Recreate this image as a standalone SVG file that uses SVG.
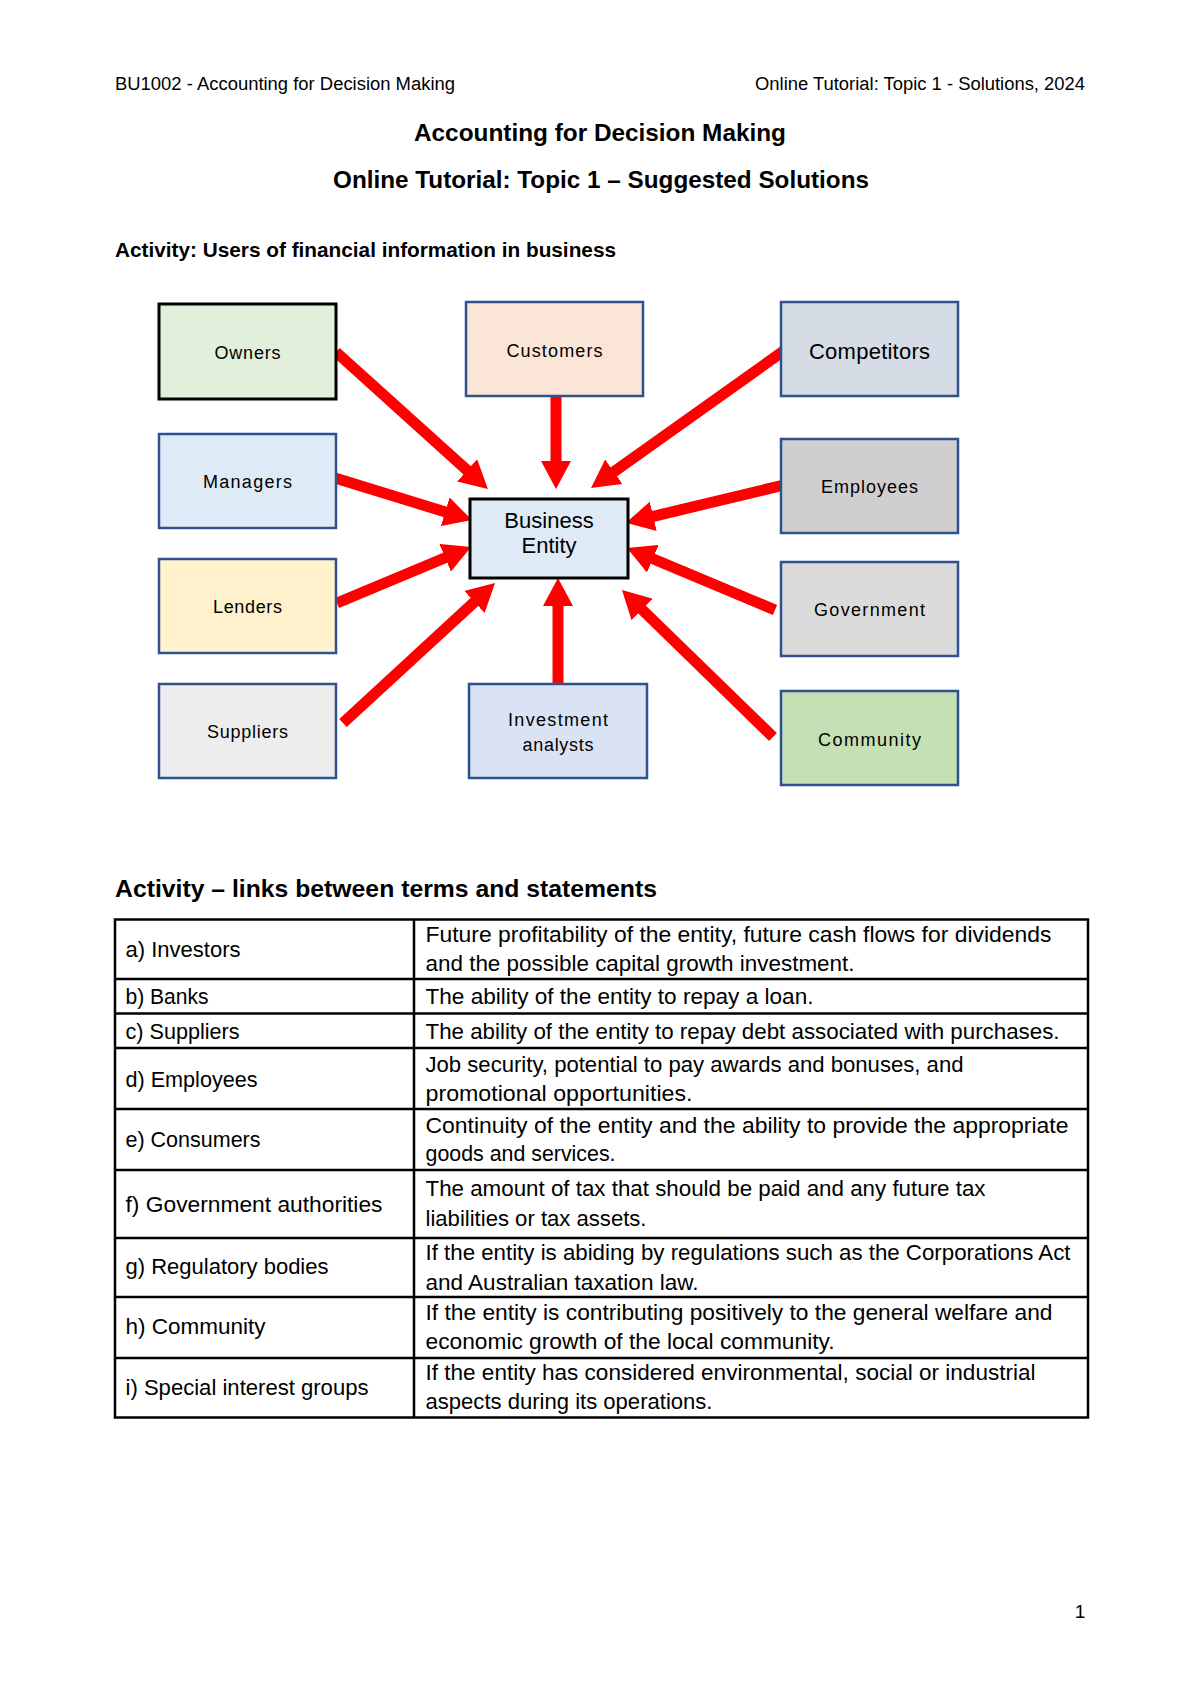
<svg xmlns="http://www.w3.org/2000/svg" width="1200" height="1698" viewBox="0 0 1200 1698">
<defs>
<style>
text{font-family:"Liberation Sans",Arial,sans-serif;fill:#000}
.hdr{font-size:18px}
.ttl{font-size:24px;font-weight:bold}
.h2{font-size:21px;font-weight:bold}
.h3{font-size:24px;font-weight:bold}
.lbl{font-size:18px;text-anchor:middle}
.big{font-size:22px;text-anchor:middle}
.tb{font-size:22px}
.box{stroke:#2F528F;stroke-width:2.5}
.boxk{stroke:#000;stroke-width:3}
.arr{stroke:#FF0000;stroke-width:11;fill:none;marker-end:url(#ah)}
.grid{stroke:#000;stroke-width:2.5;fill:none}
</style>
<marker id="ah" markerUnits="userSpaceOnUse" viewBox="0 0 30 30" markerWidth="30" markerHeight="30" refX="2" refY="15" orient="auto">
<path d="M0,0 L28,15 L0,30 z" fill="#FF0000"/>
</marker>
</defs>
<rect width="1200" height="1698" fill="#FFFFFF"/>

<g id="header">
<text class="hdr" x="115" y="90" textLength="340" lengthAdjust="spacingAndGlyphs">BU1002 - Accounting for Decision Making</text>
<text class="hdr" x="755" y="90" textLength="330" lengthAdjust="spacingAndGlyphs">Online Tutorial: Topic 1 - Solutions, 2024</text>
<text class="ttl" x="414" y="141" textLength="372" lengthAdjust="spacingAndGlyphs">Accounting for Decision Making</text>
<text class="ttl" x="333" y="188" textLength="536" lengthAdjust="spacingAndGlyphs">Online Tutorial: Topic 1 – Suggested Solutions</text>
<text class="h2" x="115" y="257" textLength="501" lengthAdjust="spacingAndGlyphs">Activity: Users of financial information in business</text>
</g>

<g id="connectors">
<line class="arr" x1="336" y1="352" x2="468.6" y2="471.7"/>
<line class="arr" x1="556" y1="397" x2="556" y2="463"/>
<line class="arr" x1="785" y1="350" x2="612.2" y2="472.9"/>
<line class="arr" x1="335" y1="478" x2="447.1" y2="512.4"/>
<line class="arr" x1="784" y1="485" x2="651.3" y2="516.8"/>
<line class="arr" x1="337" y1="603" x2="447" y2="557"/>
<line class="arr" x1="775" y1="610" x2="651" y2="558"/>
<line class="arr" x1="343" y1="723" x2="475.9" y2="600.6"/>
<line class="arr" x1="558" y1="684" x2="558" y2="604"/>
<line class="arr" x1="773" y1="737" x2="640.6" y2="608.1"/>
</g>

<g id="owners">
<rect class="boxk" x="159" y="304" width="177" height="95" fill="#E2EFDA"/>
<text class="lbl" x="247.5" y="359" textLength="66" lengthAdjust="spacing">Owners</text>
</g>
<g id="customers">
<rect class="box" x="466" y="302" width="177" height="94" fill="#FBE5D6"/>
<text class="lbl" x="554.5" y="357" textLength="96" lengthAdjust="spacing">Customers</text>
</g>
<g id="competitors">
<rect class="box" x="781" y="302" width="177" height="94" fill="#D6DCE5"/>
<text class="big" x="869.5" y="359" textLength="121" lengthAdjust="spacing">Competitors</text>
</g>
<g id="managers">
<rect class="box" x="159" y="434" width="177" height="94" fill="#DEEBF7"/>
<text class="lbl" x="247.5" y="488" textLength="89" lengthAdjust="spacing">Managers</text>
</g>
<g id="employees">
<rect class="box" x="781" y="439" width="177" height="94" fill="#D0CECE"/>
<text class="lbl" x="869.5" y="493" textLength="97" lengthAdjust="spacing">Employees</text>
</g>
<g id="business-entity">
<rect class="boxk" x="470" y="499" width="158" height="79" fill="#DEEBF7"/>
<text class="big" x="549" y="528">Business</text>
<text class="big" x="549" y="553">Entity</text>
</g>
<g id="lenders">
<rect class="box" x="159" y="559" width="177" height="94" fill="#FFF2CC"/>
<text class="lbl" x="247.5" y="613" textLength="69" lengthAdjust="spacing">Lenders</text>
</g>
<g id="government">
<rect class="box" x="781" y="562" width="177" height="94" fill="#DBDBDB"/>
<text class="lbl" x="869.5" y="616" textLength="111" lengthAdjust="spacing">Government</text>
</g>
<g id="suppliers">
<rect class="box" x="159" y="684" width="177" height="94" fill="#EDEDED"/>
<text class="lbl" x="247.5" y="738" textLength="81" lengthAdjust="spacing">Suppliers</text>
</g>
<g id="investment-analysts">
<rect class="box" x="469" y="684" width="178" height="94" fill="#DAE3F3"/>
<text class="lbl" x="558" y="726" textLength="100" lengthAdjust="spacing">Investment</text>
<text class="lbl" x="558" y="751" textLength="71" lengthAdjust="spacing">analysts</text>
</g>
<g id="community">
<rect class="box" x="781" y="691" width="177" height="94" fill="#C5E0B4"/>
<text class="lbl" x="869.5" y="746" textLength="103" lengthAdjust="spacing">Community</text>
</g>

<g id="links-table">
<text class="h3" x="115" y="897" textLength="542" lengthAdjust="spacingAndGlyphs">Activity – links between terms and statements</text>
<rect class="grid" x="115" y="919.5" width="973" height="498"/>
<line class="grid" x1="414" y1="919.5" x2="414" y2="1417.5"/>
<line class="grid" x1="115" y1="979" x2="1088" y2="979"/>
<line class="grid" x1="115" y1="1013.5" x2="1088" y2="1013.5"/>
<line class="grid" x1="115" y1="1048" x2="1088" y2="1048"/>
<line class="grid" x1="115" y1="1109" x2="1088" y2="1109"/>
<line class="grid" x1="115" y1="1170" x2="1088" y2="1170"/>
<line class="grid" x1="115" y1="1238" x2="1088" y2="1238"/>
<line class="grid" x1="115" y1="1297" x2="1088" y2="1297"/>
<line class="grid" x1="115" y1="1358" x2="1088" y2="1358"/>

<text class="tb" x="125.5" y="957" textLength="115" lengthAdjust="spacingAndGlyphs">a) Investors</text>
<text class="tb" x="125.5" y="1004" textLength="83" lengthAdjust="spacingAndGlyphs">b) Banks</text>
<text class="tb" x="125.5" y="1038.5" textLength="114" lengthAdjust="spacingAndGlyphs">c) Suppliers</text>
<text class="tb" x="125.5" y="1087" textLength="132" lengthAdjust="spacingAndGlyphs">d) Employees</text>
<text class="tb" x="125.5" y="1147" textLength="135" lengthAdjust="spacingAndGlyphs">e) Consumers</text>
<text class="tb" x="125.5" y="1212" textLength="257" lengthAdjust="spacingAndGlyphs">f) Government authorities</text>
<text class="tb" x="125.5" y="1274" textLength="203" lengthAdjust="spacingAndGlyphs">g) Regulatory bodies</text>
<text class="tb" x="125.5" y="1334" textLength="140" lengthAdjust="spacingAndGlyphs">h) Community</text>
<text class="tb" x="125.5" y="1395" textLength="243" lengthAdjust="spacingAndGlyphs">i) Special interest groups</text>

<text class="tb" x="425.5" y="942" textLength="626" lengthAdjust="spacingAndGlyphs">Future profitability of the entity, future cash flows for dividends</text>
<text class="tb" x="425.5" y="971" textLength="429" lengthAdjust="spacingAndGlyphs">and the possible capital growth investment.</text>
<text class="tb" x="425.5" y="1004" textLength="388" lengthAdjust="spacingAndGlyphs">The ability of the entity to repay a loan.</text>
<text class="tb" x="425.5" y="1038.5" textLength="634" lengthAdjust="spacingAndGlyphs">The ability of the entity to repay debt associated with purchases.</text>
<text class="tb" x="425.5" y="1072" textLength="538" lengthAdjust="spacingAndGlyphs">Job security, potential to pay awards and bonuses, and</text>
<text class="tb" x="425.5" y="1101" textLength="267" lengthAdjust="spacingAndGlyphs">promotional opportunities.</text>
<text class="tb" x="425.5" y="1133" textLength="643" lengthAdjust="spacingAndGlyphs">Continuity of the entity and the ability to provide the appropriate</text>
<text class="tb" x="425.5" y="1161" textLength="190" lengthAdjust="spacingAndGlyphs">goods and services.</text>
<text class="tb" x="425.5" y="1196" textLength="560" lengthAdjust="spacingAndGlyphs">The amount of tax that should be paid and any future tax</text>
<text class="tb" x="425.5" y="1226" textLength="221" lengthAdjust="spacingAndGlyphs">liabilities or tax assets.</text>
<text class="tb" x="425.5" y="1260" textLength="645" lengthAdjust="spacingAndGlyphs">If the entity is abiding by regulations such as the Corporations Act</text>
<text class="tb" x="425.5" y="1290" textLength="273" lengthAdjust="spacingAndGlyphs">and Australian taxation law.</text>
<text class="tb" x="425.5" y="1320" textLength="627" lengthAdjust="spacingAndGlyphs">If the entity is contributing positively to the general welfare and</text>
<text class="tb" x="425.5" y="1349" textLength="409" lengthAdjust="spacingAndGlyphs">economic growth of the local community.</text>
<text class="tb" x="425.5" y="1380" textLength="610" lengthAdjust="spacingAndGlyphs">If the entity has considered environmental, social or industrial</text>
<text class="tb" x="425.5" y="1409" textLength="287" lengthAdjust="spacingAndGlyphs">aspects during its operations.</text>
</g>

<g id="page-number">
<text x="1080" y="1618" style="font-size:19px;text-anchor:middle">1</text>
</g>
</svg>
